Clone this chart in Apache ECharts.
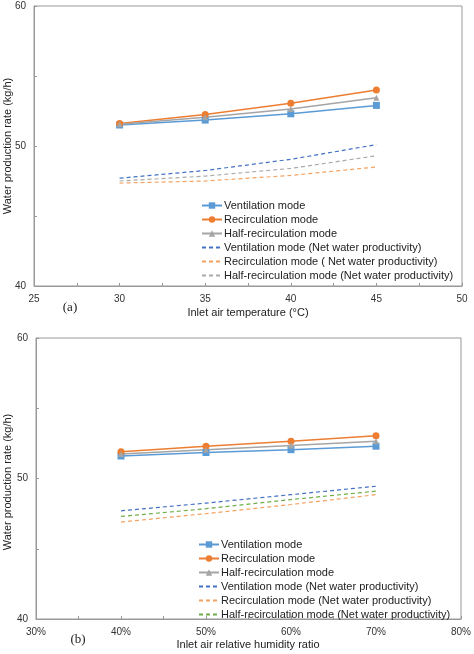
<!DOCTYPE html><html><head><meta charset="utf-8"><script src="https://cdn.jsdelivr.net/npm/echarts@6/dist/echarts.min.js"></script>
<style>html,body{margin:0;padding:0;background:#fff}#c{width:474px;height:654px}</style></head><body><div id="c"></div>
<script>
const tempA=[30,35,40,45];
const ventA=[51.5,51.85,52.3,52.9];
const recA=[51.6,52.25,53.05,54.0];
const halfA=[51.55,52.05,52.65,53.45];
const ventNetA=[47.7,48.25,49.05,50.1];
const recNetA=[47.35,47.5,47.9,48.5];
const halfNetA=[47.5,47.85,48.4,49.3];
const rhB=[40,50,60,70];
const ventB=[51.6,51.85,52.05,52.3];
const recB=[51.9,52.3,52.65,53.05];
const halfB=[51.75,52.05,52.35,52.65];
const ventNetB=[47.7,48.25,48.85,49.45];
const recNetB=[46.9,47.5,48.15,48.85];
const halfNetB=[47.3,47.85,48.5,49.1];
const pair=(x,y)=>x.map((v,i)=>[v,y[i]]);
const F='Liberation Sans, Arial, sans-serif';
function ax(gi,min,max,intv,fmt){return {gridIndex:gi,type:'value',min:min,max:max,interval:intv,
 axisLine:{lineStyle:{color:'#999'}},axisTick:{inside:true,length:3,lineStyle:{color:'#999'}},
 minorTick:{show:true,splitNumber:2,length:3,lineStyle:{color:'#999'}},
 splitLine:{show:false},axisLabel:{color:'#333',fontSize:10,fontFamily:F,formatter:fmt||'{value}'}};}
function sol(name,gi,d,color,sym){return {name,type:'line',xAxisIndex:gi,yAxisIndex:gi,data:d,symbol:sym,symbolSize:sym==='triangle'?6:7,
 itemStyle:{color},lineStyle:{color,width:1.5},animation:false};}
function dash(name,gi,d,color){return {name,type:'line',xAxisIndex:gi,yAxisIndex:gi,data:d,symbol:'none',
 itemStyle:{color},lineStyle:{color,width:1.2,type:[4,3]},animation:false};}
const blue='#5B9BD5',orange='#ED7D31',gray='#A5A5A5',dblue='#4472C4',dor='#F4A261',dgray='#AAAAAA',green='#70AD47';
const namesA=['Ventilation mode','Recirculation mode','Half-recirculation mode','Ventilation mode (Net water productivity)','Recirculation mode ( Net water productivity)','Half-recirculation mode (Net water productivity)'];
const namesB=['Ventilation mode ','Recirculation mode ','Half-recirculation mode ','Ventilation mode (Net water productivity) ','Recirculation mode (Net water productivity)','Half-recirculation mode (Net water productivity) '];
const leg=(names,l,t)=>({data:names.map((n,i)=>i<3?{name:n}:{name:n,itemStyle:{opacity:0}}),left:l,top:t,orient:'vertical',itemGap:3,itemWidth:20,itemHeight:8,
 textStyle:{fontSize:11,fontFamily:F,color:'#222',padding:[0,0,0,-3]},selectedMode:false});
const ch=echarts.init(document.getElementById('c'));
ch.setOption({animation:false,
 grid:[{left:34,top:6,width:428,height:280,show:true,borderColor:'#999',borderWidth:1},
       {left:36,top:338,width:427,height:281,show:true,borderColor:'#999',borderWidth:1}],
 legend:[leg(namesA,196,195),leg(namesB,193,534)],
 xAxis:[ax(0,25,50,5),ax(1,30,80,10,'{value}%')],
 yAxis:[ax(0,40,60,10),ax(1,40,60,10)],
 series:[sol(namesA[0],0,pair(tempA,ventA),blue,'rect'),sol(namesA[1],0,pair(tempA,recA),orange,'circle'),sol(namesA[2],0,pair(tempA,halfA),gray,'triangle'),
  dash(namesA[3],0,pair(tempA,ventNetA),dblue),dash(namesA[4],0,pair(tempA,recNetA),dor),dash(namesA[5],0,pair(tempA,halfNetA),dgray),
  sol(namesB[0],1,pair(rhB,ventB),blue,'rect'),sol(namesB[1],1,pair(rhB,recB),orange,'circle'),sol(namesB[2],1,pair(rhB,halfB),gray,'triangle'),
  dash(namesB[3],1,pair(rhB,ventNetB),dblue),dash(namesB[4],1,pair(rhB,recNetB),dor),dash(namesB[5],1,pair(rhB,halfNetB),green)],
 graphic:[
  {type:'text',x:8,y:146,rotation:Math.PI/2,style:{text:'Water production rate (kg/h)',fontSize:11,fontFamily:F,fill:'#222',align:'center',verticalAlign:'middle'}},
  {type:'text',x:8,y:482,rotation:Math.PI/2,style:{text:'Water production rate (kg/h)',fontSize:11,fontFamily:F,fill:'#222',align:'center',verticalAlign:'middle'}},
  {type:'text',x:248,y:313,style:{text:'Inlet air temperature (°C)',fontSize:11,fontFamily:F,fill:'#222',align:'center',verticalAlign:'middle'}},
  {type:'text',x:248,y:645,style:{text:'Inlet air relative humidity ratio',fontSize:11,fontFamily:F,fill:'#222',align:'center',verticalAlign:'middle'}},
  {type:'text',x:70,y:308,style:{text:'(a)',fontSize:13,fontFamily:'Liberation Serif, serif',fill:'#222',align:'center',verticalAlign:'middle'}},
  {type:'text',x:78,y:640,style:{text:'(b)',fontSize:13,fontFamily:'Liberation Serif, serif',fill:'#222',align:'center',verticalAlign:'middle'}}
 ]});
</script></body></html>
